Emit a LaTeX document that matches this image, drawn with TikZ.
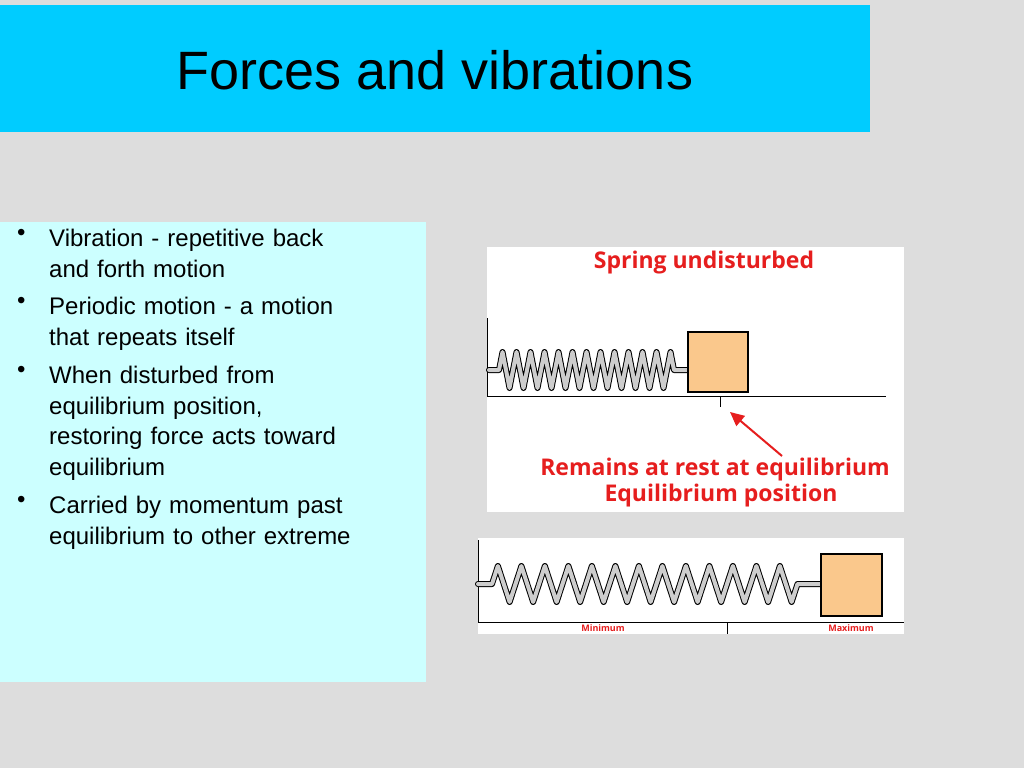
\documentclass[tikz,border=0pt]{standalone}
\usepackage{fontspec}
\setmainfont{Liberation Sans}
\newfontfamily\redfont{Open Sans}
\usetikzlibrary{decorations.pathmorphing,arrows.meta}
\definecolor{bg}{RGB}{221,221,221}
\definecolor{titlec}{RGB}{0,204,255}
\definecolor{panelc}{RGB}{204,255,255}
\definecolor{boxc}{RGB}{250,200,140}
\definecolor{redc}{RGB}{230,30,30}
\definecolor{coil}{RGB}{205,205,205}
\tikzset{
 bl/.style={anchor=north west,inner sep=0pt,font=\fontsize{24}{30.5}\selectfont,text width=380pt,align=left},
 bul/.style={anchor=north west,inner sep=0pt,font=\fontsize{24}{30}\selectfont},
 rt/.style={text=redc,inner sep=0pt,font=\redfont\bfseries\fontsize{23}{23}\selectfont},
 mass/.style={draw=black,line width=2pt,fill=boxc},
 spr/.style={line join=round,line cap=round},
}
\begin{document}
\begin{tikzpicture}[x=1pt,y=-1pt]
\useasboundingbox (0,0) rectangle (1024,768);
\fill[bg] (0,0) rectangle (1024,768);
\fill[titlec] (0,5) rectangle (870,132);
\node (title) at (435,70) {\fontsize{54}{54}\selectfont Forces and vibrations};
\fill[panelc] (0,222) rectangle (426,682);
\foreach \y/\t in {229/{Vibration - repetitive back\\and forth motion},297/{Periodic motion - a motion\\that repeats itself},366/{When disturbed from\\equilibrium position,\\restoring force acts toward\\equilibrium},496/{Carried by momentum past\\equilibrium to other extreme}}{
 \node[bul] at (17,\y) {\textbullet};
 \node[bl] at (49,\y) {\t};
}
% panel 1
\fill[white] (487,247) rectangle (904,512);
\node[rt] (t1) at (704,263) {Spring undisturbed};
\draw[line width=1pt] (487,318) -- (487,396) -- (886,396);
\draw[line width=0.8pt] (720,396) -- (720,407);
\foreach \w/\c in {6pt/black,4pt/coil}
 \draw[spr,line width=\w,\c,decorate,decoration={zigzag,segment length=14pt,amplitude=18pt,pre length=10pt,post length=10pt}] (489,370) -- (688,370);
\node[mass,minimum width=60pt,minimum height=60pt,inner sep=0pt] (m1) at (718,362) {};
\coordinate (a0) at (782,456);
\coordinate (a1) at (730,412);
\draw[redc,line width=2pt,-{Triangle[length=14pt,width=13pt]}] (a0) -- (a1);
\node[rt] (t2) at (715,470) {Remains at rest at equilibrium};
\node[rt] (t3) at (721,496) {Equilibrium position};
% panel 2
\fill[white] (478,538) rectangle (904,634);
\draw[line width=0.8pt] (478,540) -- (478,622) -- (904,622);
\draw[line width=0.8pt] (727,622) -- (727,634);
\foreach \w/\c in {6pt/black,4pt/coil}
 \draw[spr,line width=\w,\c,decorate,decoration={zigzag,segment length=23.5pt,amplitude=18pt,pre length=14pt,post length=14pt}] (478,584) -- (820,584);
\node[mass,minimum width=61pt,minimum height=62pt,inner sep=0pt] (m2) at (851,585) {};
\node[text=redc,inner sep=0pt,font=\redfont\bfseries\fontsize{9}{9}\selectfont] (mn) at (603,628) {Minimum};
\node[text=redc,inner sep=0pt,font=\redfont\bfseries\fontsize{9}{9}\selectfont] (mx) at (851,628) {Maximum};
\end{tikzpicture}
\end{document}
